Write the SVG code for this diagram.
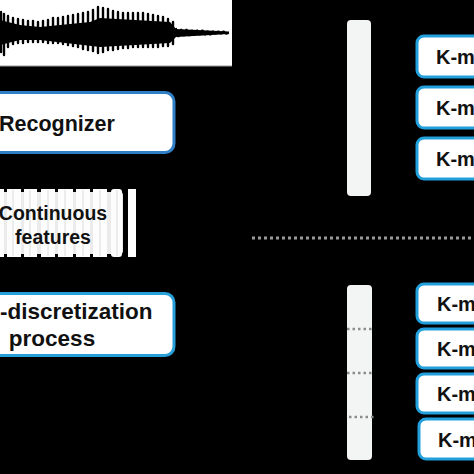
<svg xmlns="http://www.w3.org/2000/svg" width="474" height="474" viewBox="0 0 474 474">
<defs>
<style>
.lbl{font-family:"Liberation Sans",Arial,sans-serif;font-weight:bold;fill:#111;}
.km{fill:#fff;stroke:#22a0dc;stroke-width:3;}
.bar{fill:#f3f4f4;}
.dots{stroke:#8c8c8c;stroke-width:2.5;stroke-dasharray:2.5 3;fill:none;}
.stripe{fill:#fdfdfd;}
.fine{stroke:#dcdcdc;stroke-width:1;}
</style>
</defs>
<rect x="0" y="0" width="474" height="474" fill="#000"/>

<g id="waveform">
<rect x="0" y="0" width="232" height="66" fill="#fff"/>
<line x1="0" y1="66" x2="232" y2="66" stroke="#999" stroke-width="1"/>
<polygon points="0,20 20,25 40,27 90,22 100,18 170,22 176,29 229,31.5 229,34 176,37 170,43 100,47 40,40 20,40 0,45" fill="#000"/>
<path fill="none" stroke="#000" stroke-width="2.4" stroke-linecap="round" d="M1,12V52 M4,14V55 M8,16V47 M13,18V44 M18,19V43 M23,20V43 M28,21V42 M33,21V42 M38,22V42 M43,21V42 M48,20V43 M53,18V43 M58,18V43 M63,17V44 M68,16V45 M73,15V46 M78,14V47 M83,13V49 M88,12V50 M93,10V51 M98,7V53 M103,8V52 M108,9V50 M113,11V50 M118,12V49 M123,13V48 M128,13V48 M133,13V47 M138,13V47 M143,13V47 M148,14V47 M153,15V47 M158,16V47 M163,17V46 M168,19V46 M173,22V44"/>
<polyline fill="none" stroke="#000" stroke-width="1.8" stroke-linejoin="bevel" points="175.9,28 178.5,37 181.2,29 183.8,36 186.5,29 189.1,36 191.8,30 194.4,35 197.1,30 199.7,35 202.4,30 205,35 207.7,31 210.3,35 213,31 215.6,34 218.3,31 220.9,34 223.6,31 226.2,34 229,33"/>
</g>

<g id="recognizer">
<rect x="-12" y="92.5" width="186" height="60" rx="9" fill="#fff" stroke="#2f7fc6" stroke-width="3"/>
<text class="lbl" x="-1" y="131" font-size="21.5">Recognizer</text>
</g>

<g id="continuous-features">
<rect x="0" y="192" width="123" height="62" rx="3" fill="#ebebeb"/>
<rect class="stripe" x="0" y="189" width="4" height="68"/>
<rect class="stripe" x="7" y="189" width="14" height="68"/>
<rect class="stripe" x="24" y="189" width="13" height="68"/>
<rect class="stripe" x="41" y="189" width="14" height="68"/>
<rect class="stripe" x="58" y="189" width="15" height="68"/>
<rect class="stripe" x="76" y="189" width="14" height="68"/>
<rect class="stripe" x="93" y="189" width="14" height="68"/>
<rect class="stripe" x="111" y="189" width="11" height="68" rx="3"/>
<g class="fine">
<line x1="13" y1="190" x2="13" y2="256"/>
<line x1="30" y1="190" x2="30" y2="256"/>
<line x1="48" y1="190" x2="48" y2="256"/>
<line x1="65" y1="190" x2="65" y2="256"/>
<line x1="83" y1="190" x2="83" y2="256"/>
<line x1="100" y1="190" x2="100" y2="256"/>
<line x1="117" y1="190" x2="117" y2="256"/>
</g>
<rect x="128" y="189" width="8" height="68" fill="#fff"/>
<text class="lbl" x="53" y="220" font-size="19.5" text-anchor="middle">Continuous</text>
<text class="lbl" x="53" y="244" font-size="19.5" text-anchor="middle">features</text>
</g>

<g id="discretization">
<rect x="-12" y="293.5" width="186" height="62" rx="9" fill="#fff" stroke="#27a0da" stroke-width="3"/>
<text class="lbl" x="0" y="319" font-size="22.5">-discretization</text>
<text class="lbl" x="52" y="346" font-size="22.5" text-anchor="middle">process</text>
</g>

<g id="upper-bar">
<rect class="bar" x="347" y="20" width="24" height="176" rx="4"/>
</g>

<g id="kmeans-top-1">
<rect class="km" x="417" y="36" width="70" height="41" rx="7"/>
<text class="lbl" x="436" y="63.5" font-size="20">K-m</text>
</g>
<g id="kmeans-top-2">
<rect class="km" x="417" y="87" width="70" height="41" rx="7"/>
<text class="lbl" x="436" y="114.5" font-size="20">K-m</text>
</g>
<g id="kmeans-top-3">
<rect class="km" x="417" y="138" width="70" height="41" rx="7"/>
<text class="lbl" x="436" y="165.5" font-size="20">K-m</text>
</g>

<g id="connectors">
<line x1="252" y1="238" x2="474" y2="238" stroke="#9a9a9a" stroke-width="3" stroke-dasharray="3 3"/>
</g>

<g id="lower-bar">
<rect class="bar" x="347" y="285" width="25" height="175" rx="4"/>
<line class="dots" x1="347" y1="329" x2="372" y2="329"/>
<line class="dots" x1="347" y1="373" x2="372" y2="373"/>
<line class="dots" x1="349" y1="417" x2="374" y2="417"/>
</g>

<g id="kmeans-bot-1">
<rect class="km" x="417" y="284" width="70" height="39" rx="7"/>
<text class="lbl" x="437" y="310.5" font-size="20">K-m</text>
</g>
<g id="kmeans-bot-2">
<rect class="km" x="417" y="329" width="70" height="39" rx="7"/>
<text class="lbl" x="437" y="355.5" font-size="20">K-m</text>
</g>
<g id="kmeans-bot-3">
<rect class="km" x="417" y="374" width="70" height="39" rx="7"/>
<text class="lbl" x="437" y="400.5" font-size="20">K-m</text>
</g>
<g id="kmeans-bot-4">
<rect class="km" x="419" y="419" width="70" height="40" rx="7"/>
<text class="lbl" x="438" y="446.5" font-size="20">K-m</text>
</g>
</svg>
